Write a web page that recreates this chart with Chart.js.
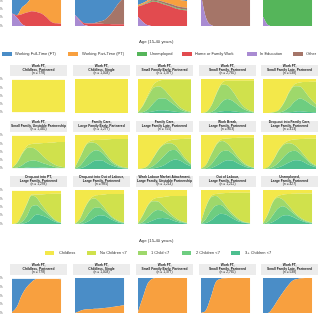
<!DOCTYPE html>
<html>
<head>
    <title>Work, family and partnership trajectories by cluster</title>
    <script src="https://cdn.jsdelivr.net/npm/chart.js"></script>
    <style>
        body {
            margin: 0;
            background: #fff;
            font-family: 'Liberation Sans', Arial, sans-serif;
            color: #333;
        }
        #page {
            position: relative;
            width: 320px;
            height: 320px;
            overflow: hidden;
        }
        canvas {
            position: absolute;
        }
        .facet-title {
            position: absolute;
            width: 57px;
            height: 11px;
            background: #ececec;
            text-align: center;
            font-size: 3.3px;
            line-height: 3.6px;
            padding-top: 0.2px;
            box-sizing: border-box;
            color: #222;
            white-space: nowrap;
        }
        .axis-label {
            position: absolute;
            font-size: 4.3px;
            line-height: 5px;
            color: #333;
            white-space: nowrap;
        }
        .swatch {
            position: absolute;
            height: 4px;
        }
        .legend-text {
            position: absolute;
            font-size: 4px;
            line-height: 4px;
            white-space: nowrap;
            color: #333;
        }
    </style>
</head>
<body>
<div id="page"></div>

<script>
    // ages on the x axis and tick values
    const ages = [15, 17.5, 20, 22.5, 25, 27.5, 30, 32.5, 35, 37.5, 40];
    const ageTicks = [15, 18, 22, 25, 29, 32, 36, 40];
    const pctTicks = [0, 25, 50, 75, 100];

    // labour market states, legend order
    const workLabels = ['Working Full-Time (FT)', 'Working Part-Time (PT)', 'Unemployed', 'Home or Family Work', 'In Education', 'Other'];
    const workColors = ['#4a8dc7', '#f8a03f', '#55b55a', '#e24b4f', '#a98bd2', '#a57568'];

    // family states, legend order
    const famLabels = ['Childless', 'No Children <7', '1 Child <7', '2 Children <7', '3+ Children <7'];
    const famColors = ['#f3e84a', '#d0e14c', '#9ed86b', '#6ecd80', '#4dbf8f'];

    // partnership states (bottom panel)
    const partLabels = ['Single', 'Partnered'];
    const partColors = ['#4a8dc7', '#f8a03f'];

    // facet titles
    const titleLine1 = [
        'Work FT,', 'Work FT,', 'Work FT,', 'Work FT,', 'Work FT,',
        'Work FT,', 'Family Care,', 'Family Care,', 'Work Break,', 'Drop-out into Family Care,',
        'Drop-out into PT,', 'Drop-out into Out of Labour,', 'Weak Labour Market Attachment,', 'Out of Labour,', 'Unemployed,'
    ];
    const titleLine2 = [
        'Childless, Partnered', 'Childless, Single', 'Small Family Early, Partnered', 'Small Family, Partnered', 'Small Family Late, Partnered',
        'Small Family, Unstable Partnership', 'Large Family Early, Partnered', 'Large Family Late, Partnered', 'Large Family, Partnered', 'Large Family, Partnered',
        'Large Family, Partnered', 'Large Family, Partnered', 'Large Family, Unstable Partnership', 'Large Family, Partnered', 'Large Family, Partnered'
    ];
    const clusterSizes = ['778', '1,003', '1,377', '2,765', '538', '1,465', '1,277', '755', '803', '413', '1,293', '985', '1,214', '1,212', '427'];

    // top panel: labour states for the last five clusters  [FT, PT, Unemployed, Home, Education, Other]
    const workDropPt = [
        [63, 68, 45, 33, 16, 12, 8, 6, 5, 5, 5],
        [0, 0, 20, 27, 40, 46, 55, 68, 83, 87, 88],
        [0, 0, 0, 0, 0, 0, 0, 0, 0, 0, 0],
        [0, 7, 29, 40, 44, 42, 37, 26, 12, 8, 7],
        [37, 25, 6, 0, 0, 0, 0, 0, 0, 0, 0],
        [0, 0, 0, 0, 0, 0, 0, 0, 0, 0, 0]
    ];
    const workDropOut = [
        [68, 82, 92, 93, 91, 87, 82, 69, 50, 30, 17],
        [0, 0, 0, 0, 0, 0, 0, 0, 0, 0, 0],
        [0, 0, 0, 0, 0, 0, 0, 0, 0, 0, 0],
        [0, 3, 6, 7, 7, 7, 6, 6, 5, 5, 5],
        [32, 15, 2, 0, 0, 0, 0, 0, 0, 0, 0],
        [0, 0, 0, 0, 2, 6, 12, 25, 45, 65, 78]
    ];
    const workWeak = [
        [38, 32, 24, 15, 12, 13, 14, 17, 22, 25, 27],
        [5, 5, 5, 8, 12, 15, 18, 20, 20, 20, 20],
        [0, 1, 2, 2, 2, 2, 2, 2, 2, 2, 2],
        [30, 50, 65, 72, 70, 65, 60, 55, 50, 47, 45],
        [27, 12, 2, 0, 0, 0, 0, 0, 0, 0, 0],
        [0, 0, 2, 3, 4, 5, 6, 6, 6, 6, 6]
    ];
    const workOutLabour = [
        [2, 3, 3, 3, 3, 3, 3, 3, 3, 3, 3],
        [0, 0, 0, 0, 0, 0, 0, 0, 0, 0, 0],
        [0, 0, 0, 0, 0, 0, 0, 0, 0, 0, 0],
        [0, 0, 0, 0, 0, 0, 0, 0, 0, 0, 0],
        [90, 25, 3, 0, 0, 0, 0, 0, 0, 0, 0],
        [8, 72, 94, 97, 97, 97, 97, 97, 97, 97, 97]
    ];
    const workUnemployed = [
        [10, 10, 8, 8, 10, 10, 10, 10, 10, 10, 10],
        [0, 0, 0, 0, 0, 0, 0, 0, 0, 0, 0],
        [60, 85, 90, 90, 88, 88, 88, 88, 88, 88, 88],
        [0, 0, 0, 0, 0, 0, 0, 0, 0, 0, 0],
        [27, 3, 0, 0, 0, 0, 0, 0, 0, 0, 0],
        [3, 2, 2, 2, 2, 2, 2, 2, 2, 2, 2]
    ];

    // middle panel: family states  [Childless, No <7, 1 <7, 2 <7, 3+ <7]
    const famChildlessPartnered = [
        [100, 100, 100, 100, 100, 100, 100, 100, 100, 100, 100],
        [0, 0, 0, 0, 0, 0, 0, 0, 0, 0, 0],
        [0, 0, 0, 0, 0, 0, 0, 0, 0, 0, 0],
        [0, 0, 0, 0, 0, 0, 0, 0, 0, 0, 0],
        [0, 0, 0, 0, 0, 0, 0, 0, 0, 0, 0]
    ];
    const famChildlessSingle = [
        [100, 100, 100, 100, 100, 100, 100, 100, 100, 100, 100],
        [0, 0, 0, 0, 0, 0, 0, 0, 0, 0, 0],
        [0, 0, 0, 0, 0, 0, 0, 0, 0, 0, 0],
        [0, 0, 0, 0, 0, 0, 0, 0, 0, 0, 0],
        [0, 0, 0, 0, 0, 0, 0, 0, 0, 0, 0]
    ];
    const famSmallEarly = [
        [98, 75, 43, 15, 5, 2, 2, 2, 2, 2, 2],
        [0, 2, 5, 10, 17, 30, 48, 66, 82, 91, 95],
        [2, 20, 40, 45, 35, 25, 16, 10, 6, 3, 2],
        [0, 3, 10, 25, 35, 35, 28, 18, 8, 3, 1],
        [0, 0, 2, 5, 8, 8, 6, 4, 2, 1, 0]
    ];
    const famSmall = [
        [100, 97, 77, 38, 10, 5, 5, 5, 5, 5, 5],
        [0, 0, 0, 3, 7, 14, 32, 55, 75, 86, 92],
        [0, 3, 20, 45, 50, 40, 28, 17, 8, 4, 2],
        [0, 0, 3, 12, 28, 35, 30, 20, 10, 4, 1],
        [0, 0, 0, 2, 5, 6, 5, 3, 2, 1, 0]
    ];
    const famSmallLate = [
        [100, 100, 98, 91, 68, 35, 15, 10, 9, 8, 8],
        [0, 0, 0, 0, 1, 3, 6, 12, 30, 51, 66],
        [0, 0, 2, 8, 25, 45, 45, 35, 25, 16, 10],
        [0, 0, 0, 1, 5, 15, 30, 38, 32, 22, 14],
        [0, 0, 0, 0, 1, 2, 4, 5, 4, 3, 2]
    ];
    const famSmallUnstable = [
        [99, 81, 51, 30, 25, 24, 23, 22, 21, 20, 20],
        [0, 1, 3, 7, 13, 25, 42, 56, 67, 74, 77],
        [1, 15, 35, 42, 38, 30, 20, 12, 7, 4, 2],
        [0, 3, 10, 18, 20, 17, 12, 8, 4, 2, 1],
        [0, 0, 1, 3, 4, 4, 3, 2, 1, 0, 0]
    ];
    const famLargeEarly = [
        [95, 64, 30, 17, 15, 14, 13, 12, 12, 12, 12],
        [0, 1, 2, 5, 10, 25, 46, 65, 76, 82, 85],
        [4, 25, 38, 30, 20, 12, 8, 5, 3, 2, 1],
        [1, 8, 22, 30, 30, 24, 15, 8, 4, 2, 1],
        [0, 2, 8, 18, 25, 25, 18, 10, 5, 2, 1]
    ];
    const famLargeLate = [
        [100, 98, 88, 64, 39, 24, 16, 13, 12, 11, 11],
        [0, 0, 0, 1, 2, 4, 8, 17, 37, 59, 73],
        [0, 2, 10, 25, 35, 32, 22, 14, 9, 5, 3],
        [0, 0, 2, 8, 18, 28, 32, 28, 18, 10, 5],
        [0, 0, 0, 2, 6, 12, 22, 28, 24, 15, 8]
    ];
    const famWorkBreak = [
        [99, 87, 54, 24, 12, 10, 9, 8, 8, 8, 8],
        [0, 0, 1, 3, 6, 16, 35, 57, 73, 83, 88],
        [1, 10, 30, 38, 30, 20, 12, 7, 4, 2, 1],
        [0, 3, 12, 25, 32, 28, 20, 12, 6, 3, 1],
        [0, 0, 3, 10, 20, 26, 24, 16, 9, 4, 2]
    ];
    const famDropCare = [
        [100, 94, 72, 43, 24, 16, 13, 12, 11, 11, 11],
        [0, 0, 1, 2, 4, 8, 17, 33, 53, 69, 79],
        [0, 5, 20, 35, 35, 26, 16, 10, 6, 4, 2],
        [0, 1, 6, 15, 25, 30, 28, 20, 12, 6, 3],
        [0, 0, 1, 5, 12, 20, 26, 25, 18, 10, 5]
    ];
    const famDropPt = [
        [100, 97, 74, 40, 12, 12, 12, 11, 10, 10, 10],
        [0, 0, 0, 2, 3, 10, 31, 50, 68, 80, 86],
        [0, 3, 20, 35, 33, 22, 14, 8, 4, 2, 1],
        [0, 0, 5, 18, 36, 28, 18, 11, 6, 3, 1],
        [0, 0, 1, 5, 16, 28, 25, 20, 12, 5, 2]
    ];
    const famDropOut = [
        [99, 85, 52, 27, 17, 15, 13, 12, 12, 12, 12],
        [0, 0, 1, 3, 8, 21, 40, 59, 72, 80, 84],
        [1, 12, 32, 35, 27, 16, 9, 5, 3, 2, 1],
        [0, 3, 12, 25, 28, 22, 14, 8, 4, 2, 1],
        [0, 0, 3, 10, 20, 26, 24, 16, 9, 4, 2]
    ];
    const famWeak = [
        [98, 73, 44, 28, 23, 21, 19, 18, 18, 18, 18],
        [0, 1, 2, 5, 11, 25, 42, 57, 68, 75, 79],
        [2, 20, 35, 33, 25, 16, 10, 6, 4, 2, 1],
        [0, 5, 15, 24, 25, 20, 13, 8, 4, 2, 1],
        [0, 1, 4, 10, 16, 18, 16, 11, 6, 3, 1]
    ];
    const famOutLabour = [
        [94, 49, 19, 12, 10, 9, 8, 8, 8, 8, 8],
        [0, 1, 3, 6, 18, 37, 56, 70, 81, 87, 89],
        [5, 35, 40, 28, 16, 9, 6, 4, 2, 1, 1],
        [1, 12, 28, 32, 26, 17, 10, 6, 3, 1, 1],
        [0, 3, 10, 22, 30, 28, 20, 12, 6, 3, 1]
    ];
    const famUnemployed = [
        [98, 70, 34, 18, 14, 12, 11, 10, 10, 10, 10],
        [0, 1, 2, 5, 14, 31, 49, 65, 75, 82, 86],
        [2, 22, 38, 32, 20, 12, 7, 4, 3, 2, 1],
        [0, 6, 20, 30, 28, 19, 12, 7, 4, 2, 1],
        [0, 1, 6, 15, 24, 26, 21, 14, 8, 4, 2]
    ];

    // bottom panel: partnership for the first five clusters  [Single, Partnered]
    const partChildlessPartnered = [
        [98, 82, 48, 25, 10, 1, 0, 0, 0, 0, 3],
        [2, 18, 52, 75, 90, 99, 100, 100, 100, 100, 97]
    ];
    const partChildlessSingle = [
        [100, 94, 90, 89, 88, 87, 86, 84, 82, 80, 78],
        [0, 6, 10, 11, 12, 13, 14, 16, 18, 20, 22]
    ];
    const partSmallEarly = [
        [97, 55, 15, 2, 0, 0, 0, 0, 0, 0, 0],
        [3, 45, 85, 98, 100, 100, 100, 100, 100, 100, 100]
    ];
    const partSmall = [
        [100, 92, 55, 12, 3, 1, 0, 0, 0, 0, 0],
        [0, 8, 45, 88, 97, 99, 100, 100, 100, 100, 100]
    ];
    const partSmallLate = [
        [100, 100, 85, 63, 42, 23, 8, 3, 1, 0, 0],
        [0, 0, 15, 37, 58, 77, 92, 97, 99, 100, 100]
    ];

    const page = document.getElementById('page');
    const PLOT_W = 53;
    const AXIS_W = 12;
    const colLefts = [12, 75, 138, 201, 263];

    // stacked datasets, bottom of the stack first
    function stackSets(rows, labels, colors, order) {
        return order.map(function(k, i) {
            return {
                label: labels[k],
                data: rows[k].map(function(v, j) { return { x: ages[j], y: v }; }),
                backgroundColor: colors[k],
                borderColor: colors[k],
                borderWidth: 0,
                pointRadius: 0,
                fill: i === 0 ? 'origin' : '-1',
                cubicInterpolationMode: 'monotone'
            };
        });
    }

    function addChart(plotLeft, plotTop, plotH, datasets, showY, showX) {
        var padTop = 3, padRight = 3, xH = showX ? 10 : 0, padBottom = showX ? 0 : 3;
        var canvas = document.createElement('canvas');
        canvas.width = AXIS_W + PLOT_W + padRight;
        canvas.height = padTop + plotH + xH + padBottom;
        canvas.style.left = (plotLeft - AXIS_W) + 'px';
        canvas.style.top = (plotTop - padTop) + 'px';
        page.appendChild(canvas);

        new Chart(canvas, {
            type: 'line',
            data: { datasets: datasets },
            options: {
                responsive: false,
                animation: false,
                layout: { padding: { top: padTop, right: padRight, bottom: padBottom, left: 0 } },
                plugins: { legend: { display: false }, tooltip: { enabled: false } },
                scales: {
                    x: {
                        type: 'linear',
                        min: 15,
                        max: 40,
                        grid: { display: false },
                        border: { display: false },
                        afterBuildTicks: function(s) { s.ticks = ageTicks.map(function(v) { return { value: v }; }); },
                        afterFit: function(s) { s.height = xH; },
                        ticks: { display: showX, font: { size: 3, family: 'Liberation Sans' }, color: '#555', padding: 5, maxRotation: 0 }
                    },
                    y: {
                        stacked: true,
                        min: 0,
                        max: 100,
                        grid: { display: false },
                        border: { display: false },
                        afterBuildTicks: function(s) { s.ticks = pctTicks.map(function(v) { return { value: v }; }); },
                        afterFit: function(s) { s.width = AXIS_W; },
                        ticks: {
                            display: showY,
                            font: { size: 3.2, family: 'Liberation Sans' },
                            color: '#555',
                            padding: 1.5,
                            callback: function(v) { return v + '%'; }
                        }
                    }
                }
            }
        });
    }

    function addTitle(idx, plotLeft, plotTop) {
        var div = document.createElement('div');
        div.className = 'facet-title';
        div.style.left = (plotLeft - 2) + 'px';
        div.style.top = (plotTop - 14) + 'px';
        div.innerHTML = '<b>' + titleLine1[idx] + '</b><br><b>' + titleLine2[idx] + '</b><br>(n = ' + clusterSizes[idx] + ')';
        page.appendChild(div);
    }

    function addText(cls, text, left, top) {
        var div = document.createElement('div');
        div.className = cls;
        div.style.left = left + 'px';
        div.style.top = top + 'px';
        div.textContent = text;
        page.appendChild(div);
        return div;
    }

    function addLegend(labels, colors, swatchLefts, textLefts, y, swW) {
        labels.forEach(function(lab, i) {
            var sw = document.createElement('div');
            sw.className = 'swatch';
            sw.style.left = swatchLefts[i] + 'px';
            sw.style.top = y + 'px';
            sw.style.width = swW + 'px';
            sw.style.background = colors[i];
            page.appendChild(sw);
            addText('legend-text', lab, textLefts[i], y);
        });
    }

    // top panel (labour market states)
    var workOrder = [4, 3, 2, 5, 1, 0];
    [workDropPt, workDropOut, workWeak, workOutLabour, workUnemployed].forEach(function(rows, c) {
        addChart(colLefts[c], -8, 34, stackSets(rows, workLabels, workColors, workOrder), c === 0, true);
    });
    addText('axis-label', 'Age (15-40 years)', 139, 39);
    addLegend(workLabels, workColors, [2, 68, 137, 182, 247, 293], [15, 82, 150, 195, 260, 306], 51.5, 10);

    // middle panel (family states)
    var famOrder = [4, 3, 2, 1, 0];
    var famRows = [
        famChildlessPartnered, famChildlessSingle, famSmallEarly, famSmall, famSmallLate,
        famSmallUnstable, famLargeEarly, famLargeLate, famWorkBreak, famDropCare,
        famDropPt, famDropOut, famWeak, famOutLabour, famUnemployed
    ];
    var rowTops = [79, 135, 190];
    famRows.forEach(function(rows, i) {
        var r = Math.floor(i / 5), c = i % 5;
        addTitle(i, colLefts[c], rowTops[r]);
        addChart(colLefts[c], rowTops[r], 34, stackSets(rows, famLabels, famColors, famOrder), c === 0, r === 2);
    });
    addText('axis-label', 'Age (15-40 years)', 139, 237.5);
    addLegend(famLabels, famColors, [45, 87, 138, 182, 231], [59, 100, 151, 196, 245], 250.5, 8.5);

    // bottom panel (partnership)
    var partOrder = [1, 0];
    [partChildlessPartnered, partChildlessSingle, partSmallEarly, partSmall, partSmallLate].forEach(function(rows, c) {
        addTitle(c, colLefts[c], 278);
        addChart(colLefts[c], 278, 35, stackSets(rows, partLabels, partColors, partOrder), c === 0, true);
    });
</script>
</body>
</html>
